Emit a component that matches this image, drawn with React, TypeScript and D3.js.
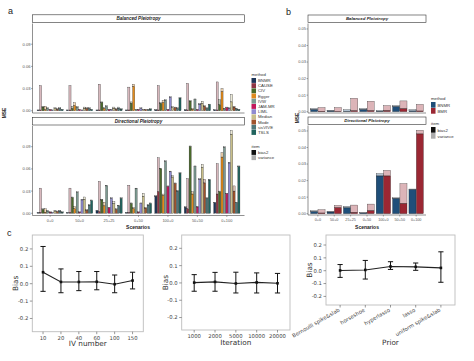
import React from 'react'
import * as d3 from 'd3'

const W = 474
const H = 361

// ---- panel a / b data ----
const scenarios = ['0+0', '50+0', '25+25', '0+50', '100+0', '50+50', '0+100']
const methodsA = ['BNMR', 'CAUSE', 'CIV', 'Egger', 'IVW', 'JAM-MR', 'LIML', 'Median', 'Mode', 'sisVIVE', 'TSLS']
const colorsA = ['#1d3557', '#8e3442', '#4a6a2b', '#e08a1c', '#7c9a91', '#c2185b', '#8f8bd0', '#c8bf8a', '#a0532d', '#4f777a', '#21645e']
const items = ['bias2', 'variance']

// rows = scenarios, columns = methodsA
const balancedBias2A = [
  [0.0008, 0.001, 0.005, 0.0015, 0.003, 0.0015, 0.0008, 0.003, 0.002, 0.003, 0.0015],
  [0.0008, 0.001, 0.003, 0.007, 0.0045, 0.0015, 0.0008, 0.0035, 0.003, 0.003, 0.0015],
  [0.0008, 0.001, 0.011, 0.003, 0.0055, 0.0015, 0.0015, 0.0035, 0.002, 0.0035, 0.0022],
  [0.0008, 0.001, 0.01, 0.033, 0.0015, 0.0015, 0.003, 0.0015, 0.0015, 0.0015, 0.0022],
  [0.001, 0.001, 0.01, 0.011, 0.014, 0.0015, 0.018, 0.004, 0.004, 0.003, 0.017],
  [0.001, 0.001, 0.013, 0.002, 0.015, 0.0015, 0.009, 0.01, 0.006, 0.003, 0.0085],
  [0.001, 0.001, 0.008, 0.026, 0.0025, 0.004, 0.0035, 0.012, 0.005, 0.0025, 0.0015],
]
const balancedVarA = [
  [0.0004, 0.033, 0.001, 0.0045, 0.001, 0.0005, 0.0004, 0.001, 0.001, 0.001, 0.0005],
  [0.0004, 0.033, 0.003, 0.004, 0.0015, 0.0005, 0.0004, 0.0015, 0.001, 0.001, 0.0005],
  [0.0004, 0.035, 0.001, 0.001, 0.0015, 0.0005, 0.0005, 0.0015, 0.001, 0.0015, 0.0008],
  [0.0004, 0.031, 0.002, 0.003, 0.0005, 0.0005, 0.001, 0.0005, 0.0005, 0.0005, 0.0008],
  [0.0005, 0.033, 0.001, 0.003, 0.001, 0.0005, 0.001, 0.002, 0.001, 0.001, 0.001],
  [0.0005, 0.036, 0.001, 0.001, 0.001, 0.0005, 0.001, 0.003, 0.001, 0.001, 0.0005],
  [0.0005, 0.038, 0.007, 0.004, 0.0005, 0.001, 0.0005, 0.01, 0.001, 0.0005, 0.0005],
]
const directionalBias2A = [
  [0.0008, 0.001, 0.005, 0.0015, 0.003, 0.0015, 0.0008, 0.003, 0.002, 0.003, 0.0015],
  [0.0008, 0.001, 0.021, 0.006, 0.028, 0.0015, 0.018, 0.019, 0.004, 0.011, 0.017],
  [0.0035, 0.002, 0.018, 0.01, 0.037, 0.0075, 0.02, 0.013, 0.005, 0.01, 0.02],
  [0.0008, 0.001, 0.013, 0.006, 0.033, 0.0015, 0.013, 0.023, 0.007, 0.011, 0.013],
  [0.023, 0.029, 0.06, 0.024, 0.07, 0.036, 0.056, 0.049, 0.04, 0.03, 0.054],
  [0.008, 0.006, 0.09, 0.026, 0.063, 0.0085, 0.046, 0.062, 0.041, 0.02, 0.045],
  [0.0145, 0.026, 0.029, 0.076, 0.089, 0.0265, 0.068, 0.107, 0.03, 0.0145, 0.063],
]
const directionalVarA = [
  [0.0004, 0.033, 0.001, 0.0045, 0.001, 0.0005, 0.0004, 0.001, 0.001, 0.001, 0.0005],
  [0.0004, 0.033, 0.001, 0.003, 0.001, 0.0005, 0.001, 0.003, 0.001, 0.001, 0.001],
  [0.0005, 0.041, 0.001, 0.005, 0.001, 0.0005, 0.001, 0.003, 0.001, 0.001, 0.001],
  [0.0004, 0.037, 0.001, 0.002, 0.001, 0.0005, 0.001, 0.004, 0.001, 0.001, 0.001],
  [0.001, 0.046, 0.001, 0.002, 0.001, 0.001, 0.001, 0.002, 0.001, 0.001, 0.001],
  [0.001, 0.041, 0.001, 0.003, 0.001, 0.0005, 0.001, 0.004, 0.005, 0.001, 0.001],
  [0.0005, 0.041, 0.001, 0.006, 0.001, 0.0005, 0.001, 0.005, 0.007, 0.0005, 0.001],
]

const methodsB = ['BNMR', 'BMR']
const colorsB = ['#1f4e79', '#9b2733']
const balancedBias2B = [
  [0.0012, 0.0003], [0.0004, 0.0002], [0.0002, 0.0005], [0.0012, 0.0006],
  [0.0003, 0.0007], [0.003, 0.0018], [0.0004, 0.0004],
]
const balancedVarB = [
  [0.0007, 0.0022], [0.0005, 0.0023], [0.001, 0.0076], [0.0007, 0.0057],
  [0.0005, 0.003], [0.0007, 0.0047], [0.0008, 0.004],
]
const directionalBias2B = [
  [0.0012, 0.0004], [0.001, 0.0036], [0.0035, 0.0008], [0.0004, 0.0018],
  [0.0228, 0.0228], [0.0092, 0.0062], [0.0146, 0.0482],
]
const directionalVarB = [
  [0.0006, 0.002], [0.0004, 0.0014], [0.0009, 0.0044], [0.0002, 0.004],
  [0.0014, 0.0034], [0.0004, 0.012], [0.0003, 0.0022],
]

// ---- panel c data ----
const ivNumbers = ['10', '20', '40', '60', '100', '150']
const ivMean = [0.066, 0.01, 0.01, 0.011, -0.003, 0.018]
const ivLow = [-0.044, -0.052, -0.04, -0.035, -0.052, -0.03]
const ivHigh = [0.214, 0.085, 0.07, 0.07, 0.05, 0.066]

const iterations = ['1000', '2000', '5000', '10000', '20000']
const iterMean = [0.002, 0.006, -0.003, 0.003, -0.002]
const iterLow = [-0.048, -0.048, -0.058, -0.058, -0.058]
const iterHigh = [0.048, 0.061, 0.062, 0.058, 0.055]

const priors = ['Bernoulli spike&slab', 'horseshoe', 'hyperlasso', 'lasso', 'uniform spike&slab']
const priorMean = [0.002, 0.006, 0.033, 0.03, 0.022]
const priorLow = [-0.052, -0.065, 0.01, 0.003, -0.09]
const priorHigh = [0.048, 0.08, 0.07, 0.06, 0.147]

const yTicksA = [0, 0.03, 0.06, 0.09]
const yTicksB = [0, 0.01, 0.02, 0.03, 0.04, 0.05]
const yTicksC = [-0.2, -0.1, 0, 0.1, 0.2]

const sans = 'Liberation Sans, Arial, sans-serif'
const dv = 'DejaVu Sans, sans-serif'

function Facet(props: any) {
  const { left, right, stripTop, plotTop, plotBottom, domain, ticks, bias, vari, methods, colors, label, fs, xLabels } = props
  const x = d3.scalePoint().domain(scenarios).range([left, right]).padding(0.6)
  const step = x.step()
  const inner = d3.scaleBand().domain(methods).range([-0.45 * step, 0.45 * step])
  const y = d3.scaleLinear().domain(domain).range([plotBottom, plotTop])
  const bw = inner.bandwidth()
  return (
    <g>
      <rect x={left} y={stripTop} width={right - left} height={plotTop - stripTop - 1} fill="#fff" stroke="#333" strokeWidth={0.6} />
      <text x={(left + right) / 2} y={(stripTop + plotTop - 1) / 2 + fs * 0.36} textAnchor="middle" fontSize={fs} fontStyle="italic" fontWeight="bold" fontFamily={sans} fill="#222">{label}</text>
      {scenarios.map((s, i) =>
        methods.map((m: string, j: number) => {
          const x0 = (x(s) as number) + (inner(m) as number)
          const b = bias[i][j]
          const v = vari[i][j]
          return (
            <g key={s + m}>
              <rect x={x0 + 0.15} y={y(b)} width={bw - 0.3} height={y(0) - y(b)} fill={colors[j]} stroke="#222" strokeWidth={0.3} />
              <rect x={x0 + 0.15} y={y(b + v)} width={bw - 0.3} height={y(b) - y(b + v)} fill={colors[j]} fillOpacity={0.35} stroke="#222" strokeWidth={0.3} />
            </g>
          )
        })
      )}
      <line x1={left} x2={left} y1={plotTop} y2={plotBottom} stroke="#222" strokeWidth={0.5} />
      <line x1={left} x2={right} y1={plotBottom} y2={plotBottom} stroke="#222" strokeWidth={0.5} />
      {ticks.map((t: number) => (
        <g key={t}>
          <line x1={left - 1.5} x2={left} y1={y(t)} y2={y(t)} stroke="#333" strokeWidth={0.4} />
          <text x={left - 2} y={y(t) + fs * 0.33} textAnchor="end" fontSize={fs * 0.9} fontFamily={sans} fill="#555">{t.toFixed(2)}</text>
        </g>
      ))}
      {xLabels &&
        scenarios.map((s) => (
          <g key={s}>
            <line x1={x(s)} x2={x(s)} y1={plotBottom} y2={plotBottom + 1.5} stroke="#333" strokeWidth={0.4} />
            <text x={x(s)} y={plotBottom + 6} textAnchor="middle" fontSize={fs * 0.85} fontFamily={sans} fill="#555">{s}</text>
          </g>
        ))}
    </g>
  )
}

function Legend(props: any) {
  const { x, y, methods, colors, gap, itemY, fs } = props
  const k = fs * 1.05
  return (
    <g fontFamily={sans} fontSize={fs} fill="#333">
      <text x={x} y={y}>method</text>
      {methods.map((m: string, i: number) => (
        <g key={m}>
          <rect x={x} y={y + 2 + i * gap} width={k} height={gap - 0.3} fill={colors[i]} />
          <text x={x + k + 2} y={y + 2 + i * gap + gap * 0.75}>{m}</text>
        </g>
      ))}
      <text x={x} y={itemY}>item</text>
      {items.map((it, i) => (
        <g key={it}>
          <rect x={x} y={itemY + 2 + i * gap} width={k} height={gap - 0.3} fill="#111" fillOpacity={i === 0 ? 1 : 0.35} />
          <text x={x + k + 2} y={itemY + 2 + i * gap + gap * 0.75}>{it}</text>
        </g>
      ))}
    </g>
  )
}

function ErrorPlot(props: any) {
  const { left, right, top, bottom, domain, cats, mean, low, high, pad, xTitle, xTitleY, rotate, labelY } = props
  const x = d3.scalePoint().domain(cats).range([left, right]).padding(pad)
  const y = d3.scaleLinear().domain(domain).range([bottom, top])
  const line = d3.line<number>().x((_, i) => x(cats[i]) as number).y((d) => y(d))
  return (
    <g fontFamily={dv}>
      <rect x={left} y={top} width={right - left} height={bottom - top} fill="#fff" stroke="#bdbdbd" strokeWidth={0.9} />
      {yTicksC.map((t) => (
        <g key={t}>
          <line x1={left - 2.5} x2={left} y1={y(t)} y2={y(t)} stroke="#555" strokeWidth={0.6} />
          <text x={left - 4} y={y(t) + 1.9} textAnchor="end" fontSize={5.3} fill="#444">{t === 0 ? '0.0' : t.toFixed(1)}</text>
        </g>
      ))}
      {cats.map((c: string) => (
        <g key={c}>
          <line x1={x(c)} x2={x(c)} y1={bottom} y2={bottom + 2.5} stroke="#555" strokeWidth={0.6} />
          {rotate ? (
            <text x={x(c)} y={labelY} textAnchor="end" fontSize={5.3} fill="#444" transform={`rotate(-30 ${x(c)} ${labelY})`}>{c}</text>
          ) : (
            <text x={x(c)} y={labelY} textAnchor="middle" fontSize={5.3} fill="#444">{c}</text>
          )}
        </g>
      ))}
      <path d={line(mean) || ''} fill="none" stroke="#222" strokeWidth={1.1} />
      {cats.map((c: string, i: number) => {
        const cx = x(c) as number
        return (
          <g key={'e' + c} stroke="#111" strokeWidth={1}>
            <line x1={cx} x2={cx} y1={y(low[i])} y2={y(high[i])} />
            <line x1={cx - 2.6} x2={cx + 2.6} y1={y(low[i])} y2={y(low[i])} />
            <line x1={cx - 2.6} x2={cx + 2.6} y1={y(high[i])} y2={y(high[i])} />
            <rect x={cx - 1.3} y={y(mean[i]) - 1.3} width={2.6} height={2.6} fill="#111" stroke="none" />
          </g>
        )
      })}
      <text x={left - 14} y={(top + bottom) / 2} textAnchor="middle" fontSize={7.3} fill="#333" transform={`rotate(-90 ${left - 14} ${(top + bottom) / 2})`}>Bias</text>
      <text x={(left + right) / 2} y={xTitleY} textAnchor="middle" fontSize={7.3} fill="#333">{xTitle}</text>
    </g>
  )
}

export default function App() {
  const domA = [-0.003, 0.118]
  const domB = [-0.0008, 0.0533]
  return (
    <svg width={W} height={H} style={{ position: 'absolute', left: 0, top: 0, background: '#fff' }}>
      <rect width={W} height={H} fill="#fff" />
      {/* panel a */}
      <text x={8} y={14} fontSize={9} fontFamily={sans} fill="#222">a</text>
      <Facet left={32.5} right={244.5} stripTop={14.8} plotTop={23.5} plotBottom={113} domain={domA} ticks={yTicksA}
        bias={balancedBias2A} vari={balancedVarA} methods={methodsA} colors={colorsA} label="Balanced Pleiotropy" fs={4.6} xLabels={false} />
      <Facet left={32.5} right={244.5} stripTop={117.5} plotTop={126} plotBottom={215.5} domain={domA} ticks={yTicksA}
        bias={directionalBias2A} vari={directionalVarA} methods={methodsA} colors={colorsA} label="Directional Pleiotropy" fs={4.6} xLabels={true} />
      <text x={6} y={113} textAnchor="middle" fontSize={4.8} fontWeight="bold" fontFamily={sans} fill="#222" transform="rotate(-90 6 113)">MSE</text>
      <text x={138} y={229} textAnchor="middle" fontSize={5} fontWeight="bold" fontFamily={sans} fill="#222">Scenarios</text>
      <Legend x={251.5} y={76} methods={methodsA} colors={colorsA} gap={5.2} itemY={148} fs={4.3} />

      {/* panel b */}
      <text x={286} y={15} fontSize={9} fontFamily={sans} fill="#222">b</text>
      <Facet left={308} right={426} stripTop={15} plotTop={23.5} plotBottom={113} domain={domB} ticks={yTicksB}
        bias={balancedBias2B} vari={balancedVarB} methods={methodsB} colors={colorsB} label="Balanced Pleiotropy" fs={4.4} xLabels={false} />
      <Facet left={308} right={426} stripTop={117} plotTop={125.5} plotBottom={215} domain={domB} ticks={yTicksB}
        bias={directionalBias2B} vari={directionalVarB} methods={methodsB} colors={colorsB} label="Directional Pleiotropy" fs={4.4} xLabels={true} />
      <text x={299} y={118} textAnchor="middle" fontSize={4.8} fontWeight="bold" fontFamily={sans} fill="#222" transform="rotate(-90 299 118)">MSE</text>
      <text x={367} y={229} textAnchor="middle" fontSize={5} fontWeight="bold" fontFamily={sans} fill="#222">Scenarios</text>
      <Legend x={431} y={100} methods={methodsB} colors={colorsB} gap={6} itemY={125} fs={4.3} />

      {/* panel c */}
      <text x={7} y={236} fontSize={9} fontFamily={sans} fill="#222">c</text>
      <ErrorPlot left={32.3} right={143.3} top={235} bottom={331.7} domain={[-0.276, 0.28]} cats={ivNumbers} mean={ivMean} low={ivLow} high={ivHigh}
        pad={0.6} xTitle="IV number" xTitleY={346} labelY={339.5} rotate={false} />
      <ErrorPlot left={181.7} right={290} top={235} bottom={330} domain={[-0.272, 0.277]} cats={iterations} mean={iterMean} low={iterLow} high={iterHigh}
        pad={0.6} xTitle="Iteration" xTitleY={344.5} labelY={337.5} rotate={false} />
      <ErrorPlot left={326} right={455} top={235} bottom={305} domain={[-0.267, 0.278]} cats={priors} mean={priorMean} low={priorLow} high={priorHigh}
        pad={0.56} xTitle="Prior" xTitleY={345} labelY={311} rotate={true} />
    </svg>
  )
}
